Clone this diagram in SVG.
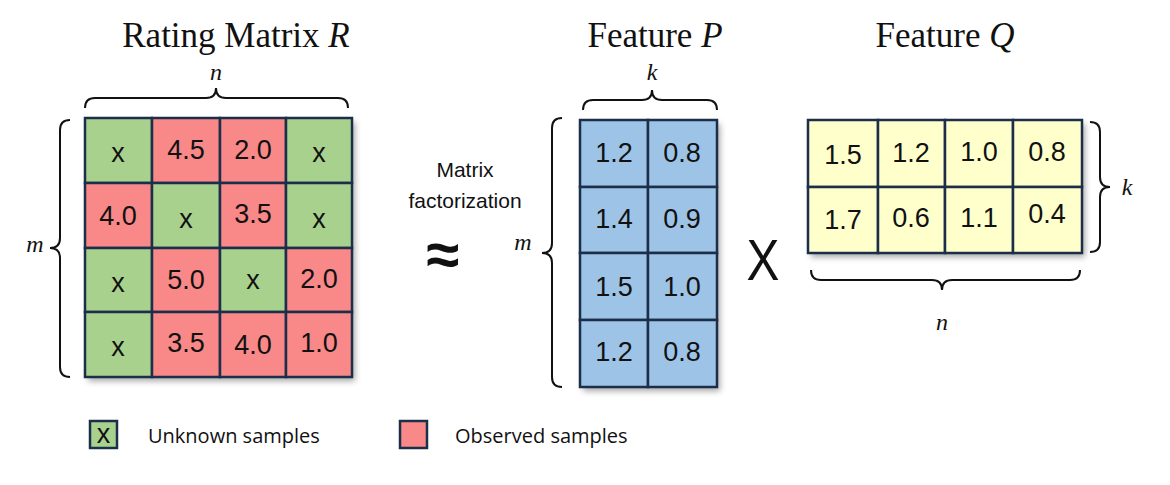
<svg xmlns="http://www.w3.org/2000/svg" width="1170" height="485" viewBox="0 0 1170 485">
<defs>
<style>
.g{fill:#a9d18e}.r{fill:#f98888}.b{fill:#9dc3e6}.y{fill:#ffffcc}
.c{stroke:#1c2f4a;stroke-width:2.5}
.t{font-family:"Liberation Sans",Arial,sans-serif;font-size:27px;fill:#111;text-anchor:middle;dominant-baseline:central}
.s{font-family:"Liberation Serif","Times New Roman",serif;fill:#111;text-anchor:middle}
.br{fill:none;stroke:#111;stroke-width:2}
</style>
<filter id="sh" x="-10%" y="-10%" width="130%" height="130%"><feDropShadow dx="3" dy="4" stdDeviation="3" flood-color="#000" flood-opacity="0.35"/></filter>
</defs>
<rect width="1170" height="485" fill="#fff"/>
<g class="s" font-size="35">
<text x="236" y="47">Rating Matrix <tspan font-style="italic">R</tspan></text>
<text x="655" y="47">Feature <tspan font-style="italic">P</tspan></text>
<text x="945" y="47">Feature <tspan font-style="italic">Q</tspan></text>
</g>
<g id="matrixR">
<rect x="85" y="118" width="267" height="259" fill="#fff" filter="url(#sh)"/>
<g class="c">
<rect class="g" x="85" y="118" width="67" height="65"/><rect class="r" x="152" y="118" width="68" height="65"/><rect class="r" x="220" y="118" width="66" height="65"/><rect class="g" x="286" y="118" width="66" height="65"/>
<rect class="r" x="85" y="183" width="67" height="65"/><rect class="g" x="152" y="183" width="68" height="65"/><rect class="r" x="220" y="183" width="66" height="65"/><rect class="g" x="286" y="183" width="66" height="65"/>
<rect class="g" x="85" y="248" width="67" height="64"/><rect class="r" x="152" y="248" width="68" height="64"/><rect class="g" x="220" y="248" width="66" height="64"/><rect class="r" x="286" y="248" width="66" height="64"/>
<rect class="g" x="85" y="312" width="67" height="65"/><rect class="r" x="152" y="312" width="68" height="65"/><rect class="r" x="220" y="312" width="66" height="65"/><rect class="r" x="286" y="312" width="66" height="65"/>
</g>
<g class="t">
<text x="118" y="153">x</text><text x="186" y="150">4.5</text><text x="253" y="150">2.0</text><text x="319" y="153">x</text>
<text x="118" y="216">4.0</text><text x="186" y="219">x</text><text x="253" y="214">3.5</text><text x="319" y="219">x</text>
<text x="118" y="283">x</text><text x="186" y="280">5.0</text><text x="253" y="280">x</text><text x="319" y="279">2.0</text>
<text x="118" y="347">x</text><text x="186" y="343">3.5</text><text x="253" y="345">4.0</text><text x="319" y="343">1.0</text>
</g>
</g>
<g id="matrixP">
<rect x="580" y="120" width="137" height="267" fill="#fff" filter="url(#sh)"/>
<g class="c b">
<rect x="580" y="120" width="68" height="67"/><rect x="648" y="120" width="69" height="67"/>
<rect x="580" y="187" width="68" height="66"/><rect x="648" y="187" width="69" height="66"/>
<rect x="580" y="253" width="68" height="67"/><rect x="648" y="253" width="69" height="67"/>
<rect x="580" y="320" width="68" height="67"/><rect x="648" y="320" width="69" height="67"/>
</g>
<g class="t">
<text x="614" y="153">1.2</text><text x="682" y="153">0.8</text>
<text x="614" y="219">1.4</text><text x="682" y="219">0.9</text>
<text x="614" y="287">1.5</text><text x="682" y="287">1.0</text>
<text x="614" y="352">1.2</text><text x="682" y="352">0.8</text>
</g>
</g>
<g id="matrixQ">
<rect x="808" y="120" width="274" height="133" fill="#fff" filter="url(#sh)"/>
<g class="c y">
<rect x="808" y="120" width="70" height="67"/><rect x="878" y="120" width="67" height="67"/><rect x="945" y="120" width="68" height="67"/><rect x="1013" y="120" width="69" height="67"/>
<rect x="808" y="187" width="70" height="66"/><rect x="878" y="187" width="67" height="66"/><rect x="945" y="187" width="68" height="66"/><rect x="1013" y="187" width="69" height="66"/>
</g>
<g class="t">
<text x="843" y="155">1.5</text><text x="911" y="153">1.2</text><text x="979" y="152">1.0</text><text x="1047" y="152">0.8</text>
<text x="843" y="220">1.7</text><text x="911" y="218">0.6</text><text x="979" y="218">1.1</text><text x="1047" y="214">0.4</text>
</g>
</g>
<g id="connectors">
<path class="br" d="M85,108 Q85,98 95,98 L206,98 Q216,98 216,88 Q216,98 226,98 L338,98 Q348,98 348,108"/>
<path class="br" d="M70,120 Q60,120 60,130 L60,238 Q60,248 50,248 Q60,248 60,258 L60,367 Q60,377 70,377"/>
<path class="br" d="M583,110 Q583,100 593,100 L642,100 Q652,100 652,90 Q652,100 662,100 L707,100 Q717,100 717,110"/>
<path class="br" d="M562,118 Q552,118 552,128 L552,243 Q552,253 542,253 Q552,253 552,263 L552,377 Q552,387 562,387"/>
<path class="br" d="M1090,122 Q1100,122 1100,132 L1100,177 Q1100,187 1110,187 Q1100,187 1100,197 L1100,242 Q1100,252 1090,252"/>
<path class="br" d="M811,270 Q811,280 821,280 L932,280 Q942,280 942,290 Q942,280 952,280 L1070,280 Q1080,280 1080,270"/>
</g>
<g class="s" font-size="24" font-style="italic">
<text x="216" y="80">n</text>
<text x="35" y="252">m</text>
<text x="652" y="80">k</text>
<text x="523" y="250">m</text>
<text x="1127" y="195">k</text>
<text x="942" y="330">n</text>
</g>
<g font-family="'Liberation Sans',Arial,sans-serif" fill="#111" text-anchor="middle">
<text x="465" y="177" font-size="21">Matrix</text>
<text x="465" y="208" font-size="21">factorization</text>
<text x="443" y="275" font-size="60" font-weight="bold">≈</text>
<text x="763" y="280" font-size="58" transform="translate(763,0) scale(0.85,1) translate(-763,0)">X</text>
</g>
<g id="legend">
<rect class="g c" x="90" y="421" width="27" height="27" stroke-width="2"/>
<text x="103.5" y="434" class="t" font-size="17">x</text>
<text x="148" y="443" font-family="'Open Sans','DejaVu Sans',sans-serif" font-size="20" fill="#111">Unknown samples</text>
<rect class="r c" x="400" y="421" width="27" height="27" stroke-width="2"/>
<text x="455" y="443" font-family="'Open Sans','DejaVu Sans',sans-serif" font-size="20" fill="#111">Observed samples</text>
</g>
</svg>
